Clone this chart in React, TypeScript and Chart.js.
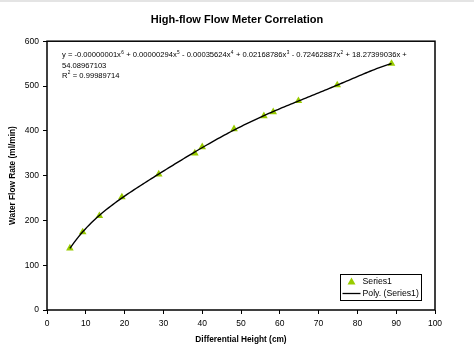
import { useEffect, useRef } from 'react';
import { Chart, registerables } from 'chart.js';
Chart.register(...registerables);

const heights = [5.9, 9.2, 13.5, 19.3, 28.8, 38.1, 40.0, 48.2, 55.9, 58.3, 64.8, 74.8, 88.8];
const flows = [138, 174, 210, 252, 303, 350, 364, 404, 433, 442, 467, 502, 550];
const xTickValues = [0, 10, 20, 30, 40, 50, 60, 70, 80, 90, 100];
const yTickValues = [0, 100, 200, 300, 400, 500, 600];
const chartTitle = 'High-flow Flow Meter Correlation';
const xAxisTitle = 'Differential Height (cm)';
const yAxisTitle = 'Water Flow Rate (ml/min)';
const seriesName = 'Series1';
const trendName = 'Poly. (Series1)';
const trendDegree = 6;
const equationLine1: [string, string][] = [
  ['y = -0.00000001x', '6'],
  [' + 0.00000294x', '5'],
  [' - 0.00035624x', '4'],
  [' + 0.02168786x', '3'],
  [' - 0.72462887x', '2'],
  [' + 18.27399036x +', ''],
];
const equationLine2: [string, string][] = [['54.08967103', '']];
const equationLine3: [string, string][] = [['R', '2'], [' = 0.99989714', '']];

const FONT = '"Liberation Sans", Arial, sans-serif';
const MARKER = '#99cc00';

// least-squares polynomial trendline computed from the data (like the spreadsheet's trendline)
function polyFit(xs: number[], ys: number[], deg: number) {
  const mx = xs.reduce((a, b) => a + b, 0) / xs.length;
  const sx = (Math.max(...xs) - Math.min(...xs)) / 2;
  const ts = xs.map((x) => (x - mx) / sx);
  const n = deg + 1;
  const A: number[][] = [];
  for (let i = 0; i < n; i++) {
    const row: number[] = [];
    for (let j = 0; j < n; j++) row.push(ts.reduce((s, t) => s + Math.pow(t, i + j), 0));
    row.push(ts.reduce((s, t, k) => s + ys[k] * Math.pow(t, i), 0));
    A.push(row);
  }
  for (let c = 0; c < n; c++) {
    let p = c;
    for (let r = c + 1; r < n; r++) if (Math.abs(A[r][c]) > Math.abs(A[p][c])) p = r;
    [A[c], A[p]] = [A[p], A[c]];
    for (let r = 0; r < n; r++) {
      if (r === c) continue;
      const f = A[r][c] / A[c][c];
      for (let k = c; k <= n; k++) A[r][k] -= f * A[c][k];
    }
  }
  const coef = A.map((row, i) => row[n] / row[i]);
  return (x: number) => {
    const t = (x - mx) / sx;
    return coef.reduce((s, c, i) => s + c * Math.pow(t, i), 0);
  };
}

function drawRich(ctx: CanvasRenderingContext2D, parts: [string, string][], x: number, y: number, size: number) {
  let cx = x;
  for (const [txt, sup] of parts) {
    ctx.font = `${size}px ${FONT}`;
    ctx.fillText(txt, cx, y);
    cx += ctx.measureText(txt).width;
    if (sup) {
      ctx.font = `${size * 0.62}px ${FONT}`;
      ctx.fillText(sup, cx + 0.3, y - size * 0.38);
      cx += ctx.measureText(sup).width + 0.6;
    }
  }
}

const decorPlugin = {
  id: 'decor',
  beforeDraw(chart: any) {
    const ctx = chart.ctx;
    ctx.save();
    ctx.fillStyle = '#ffffff';
    ctx.fillRect(0, 0, chart.width, chart.height);
    ctx.fillStyle = '#e4e4e4';
    ctx.fillRect(0, 0, chart.width, 2);
    ctx.restore();
  },
  afterDraw(chart: any) {
    const ctx = chart.ctx;
    const a = chart.chartArea;
    ctx.save();
    // plot frame
    ctx.strokeStyle = '#000';
    ctx.lineWidth = 1.5;
    ctx.strokeRect(a.left, a.top, a.right - a.left, a.bottom - a.top);
    // equation text
    ctx.fillStyle = '#000';
    ctx.textBaseline = 'middle';
    ctx.textAlign = 'left';
    const fs = 7.6;
    drawRich(ctx, equationLine1, a.left + 15, a.top + 14, fs);
    drawRich(ctx, equationLine2, a.left + 15, a.top + 24.5, fs);
    drawRich(ctx, equationLine3, a.left + 15, a.top + 34.5, fs);
    // legend
    const lx = 340.5, ly = 274.5, lw = 81, lh = 26;
    ctx.fillStyle = '#fff';
    ctx.fillRect(lx, ly, lw, lh);
    ctx.lineWidth = 1;
    ctx.strokeStyle = '#000';
    ctx.strokeRect(lx, ly, lw, lh);
    ctx.fillStyle = MARKER;
    ctx.beginPath();
    ctx.moveTo(351.5, 277.5);
    ctx.lineTo(355.5, 284.5);
    ctx.lineTo(347.5, 284.5);
    ctx.closePath();
    ctx.fill();
    ctx.strokeStyle = '#000';
    ctx.lineWidth = 1.3;
    ctx.beginPath();
    ctx.moveTo(342.5, 293.5);
    ctx.lineTo(360.5, 293.5);
    ctx.stroke();
    ctx.fillStyle = '#000';
    ctx.font = `8.7px ${FONT}`;
    ctx.fillText(seriesName, 362.5, 281.5);
    ctx.fillText(trendName, 362.5, 293.5);
    ctx.restore();
  },
};

export default function App() {
  const ref = useRef<HTMLCanvasElement>(null);
  useEffect(() => {
    if (!ref.current) return;
    const fit = polyFit(heights, flows, trendDegree);
    const x0 = Math.min(...heights);
    const x1 = Math.max(...heights);
    const steps = 150;
    const trend: { x: number; y: number }[] = [];
    for (let i = 0; i <= steps; i++) {
      const x = x0 + ((x1 - x0) * i) / steps;
      trend.push({ x, y: fit(x) });
    }
    const tickFont = { family: FONT, size: 8.5 };
    const titleFont = { family: FONT, size: 8.3, weight: 'bold' as const };
    const chart = new Chart(ref.current, {
      type: 'scatter',
      data: {
        datasets: [
          {
            label: seriesName,
            data: heights.map((h, i) => ({ x: h, y: flows[i] })),
            pointStyle: 'triangle',
            pointRadius: 4.4,
            backgroundColor: MARKER,
            borderColor: MARKER,
            borderWidth: 0,
            order: 2,
          },
          {
            label: trendName,
            type: 'line',
            data: trend,
            borderColor: '#000',
            borderWidth: 1.4,
            pointRadius: 0,
            showLine: true,
            fill: false,
            tension: 0,
            order: 1,
          } as any,
        ],
      },
      options: {
        animation: false,
        responsive: false,
        devicePixelRatio: 1,
        layout: { padding: 0 },
        plugins: {
          legend: { display: false },
          tooltip: { enabled: false },
          title: {
            display: true,
            text: chartTitle,
            color: '#000',
            font: { family: FONT, size: 11, weight: 'bold' },
            padding: { top: 13.5, bottom: 14.5 },
          },
        },
        scales: {
          x: {
            type: 'linear',
            min: 0,
            max: 100,
            afterBuildTicks: (s: any) => {
              s.ticks = xTickValues.map((v) => ({ value: v }));
            },
            afterFit: (s: any) => {
              s.height = 44;
            },
            ticks: { color: '#000', font: tickFont, padding: 5, maxRotation: 0, autoSkip: false },
            grid: { drawOnChartArea: false, drawTicks: true, tickLength: 4, color: '#000', lineWidth: 1 },
            border: { display: false },
            title: { display: true, text: xAxisTitle, color: '#000', font: titleFont, padding: { top: 0, bottom: 9 } },
          },
          y: {
            type: 'linear',
            min: 0,
            max: 600,
            afterBuildTicks: (s: any) => {
              s.ticks = yTickValues.map((v) => ({ value: v }));
            },
            afterFit: (s: any) => {
              s.width = 47;
            },
            ticks: { color: '#000', font: tickFont, padding: 4 },
            grid: { drawOnChartArea: false, drawTicks: true, tickLength: 4, color: '#000', lineWidth: 1 },
            border: { display: false },
            title: { display: true, text: yAxisTitle, color: '#000', font: titleFont, padding: { top: 8, bottom: 0 } },
          },
          y2: {
            type: 'linear',
            position: 'right',
            min: 0,
            max: 600,
            afterFit: (s: any) => {
              s.width = 39;
            },
            ticks: { display: false },
            grid: { display: false, drawTicks: false },
            border: { display: false },
          },
        },
      },
      plugins: [decorPlugin],
    });
    return () => chart.destroy();
  }, []);
  return (
    <div style={{ position: 'fixed', left: 0, top: 0, width: 474, height: 354, background: '#fff' }}>
      <canvas ref={ref} width={474} height={354} style={{ width: 474, height: 354, display: 'block' }} />
    </div>
  );
}
